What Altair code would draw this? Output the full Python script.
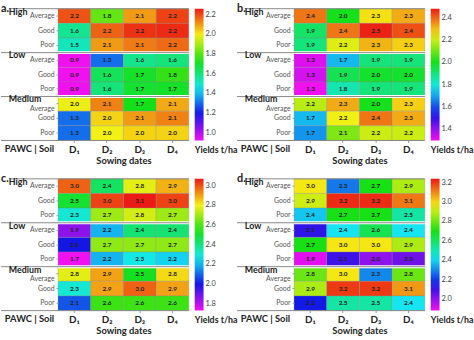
import altair as alt
import pandas as pd
import numpy as np

pawc = ["High", "Low", "Medium"]
soil = ["Average", "Good", "Poor"]
dates = ["D₁", "D₂", "D₃", "D₄"]
letters = ["a.", "b.", "c.", "d."]

# rows: High(Avg, Good, Poor), Low(Avg, Good, Poor), Medium(Avg, Good, Poor); cols D1..D4
yield_a = [
    [2.19, 1.82, 2.10, 2.21],
    [1.57, 2.17, 2.23, 2.24],
    [1.52, 2.10, 2.14, 2.16],
    [0.92, 1.30, 1.58, 1.60],
    [0.92, 1.64, 1.70, 1.76],
    [0.92, 1.60, 1.69, 1.70],
    [1.98, 2.13, 1.72, 2.08],
    [1.30, 2.03, 2.10, 2.13],
    [1.30, 1.99, 2.03, 2.03],
]
yield_b = [
    [2.38, 2.00, 2.26, 2.32],
    [1.92, 2.38, 2.47, 2.42],
    [1.90, 2.22, 2.31, 2.28],
    [1.32, 1.72, 1.90, 1.90],
    [1.33, 1.94, 1.98, 1.98],
    [1.30, 1.84, 1.90, 1.90],
    [2.18, 2.32, 2.00, 2.28],
    [1.72, 2.24, 2.38, 2.32],
    [1.68, 2.12, 2.20, 2.20],
]
yield_c = [
    [2.98, 2.44, 2.78, 2.88],
    [2.50, 3.02, 3.07, 3.02],
    [2.30, 2.70, 2.76, 2.70],
    [1.85, 2.20, 2.42, 2.42],
    [2.00, 2.68, 2.68, 2.68],
    [1.73, 2.20, 2.28, 2.24],
    [2.78, 2.90, 2.52, 2.83],
    [2.30, 2.90, 2.98, 2.90],
    [2.08, 2.58, 2.58, 2.58],
]
yield_d = [
    [2.98, 2.28, 2.70, 2.88],
    [2.92, 3.22, 3.22, 3.12],
    [2.38, 2.70, 2.70, 2.52],
    [2.12, 2.42, 2.62, 2.42],
    [2.70, 2.98, 2.98, 2.88],
    [1.90, 2.10, 2.00, 2.04],
    [2.80, 2.98, 2.30, 2.80],
    [2.88, 3.20, 3.20, 3.08],
    [2.16, 2.52, 2.52, 2.42],
]
scale_lo = [0.92, 1.30, 1.73, 1.88]
scale_hi = [2.26, 2.48, 3.07, 3.24]
legend_ticks = [
    [1.0, 1.2, 1.4, 1.6, 1.8, 2.0, 2.2],
    [1.4, 1.6, 1.8, 2.0, 2.2, 2.4],
    [1.8, 2.0, 2.2, 2.4, 2.6, 2.8, 3.0],
    [2.0, 2.2, 2.4, 2.6, 2.8, 3.0, 3.2],
]
all_yields = [yield_a, yield_b, yield_c, yield_d]

COLORS = ["#f010f0", "#1414e6", "#14e8f0", "#14e014", "#f5f014", "#ec1a14"]
FONT = "Lato"
W, H = 133, 134


def panel(idx):
    vals = all_yields[idx]
    rows = []
    for gi, g in enumerate(pawc):
        for si, s in enumerate(soil):
            for di, d in enumerate(dates):
                rows.append({"row": f"{g}|{s}", "date": d,
                             "yield": vals[gi * 3 + si][di]})
    df = pd.DataFrame(rows)
    order = [f"{g}|{s}" for g in pawc for s in soil]
    stops = list(np.linspace(scale_lo[idx], scale_hi[idx], 6))

    y = alt.Y("row:N", sort=order, scale=alt.Scale(paddingInner=0, paddingOuter=0),
              axis=alt.Axis(title=None, labelExpr="split(datum.value, '|')[1]",
                            domain=False, ticks=True, tickSize=2, tickColor="#999",
                            labelFontSize=7, labelColor="#555", labelPadding=2,
                            labelFont=FONT,
                            labelBaseline={"condition": {"test": "datum.value == 'Medium|Average'",
                                                         "value": "top"},
                                           "value": "middle"},
                            labelOffset={"condition": {"test": "datum.value == 'Medium|Average'",
                                                       "value": 1.5},
                                         "value": 0}))
    x = alt.X("date:N", sort=dates, scale=alt.Scale(paddingInner=0, paddingOuter=0),
              axis=alt.Axis(title="Sowing dates", labelAngle=0, domain=False,
                            ticks=True, tickSize=2, tickColor="#999",
                            labelFontSize=10, labelFontWeight="bold", labelFont=FONT,
                            labelColor="#222", labelPadding=2,
                            titleFontSize=9.5, titleFontWeight="bold", titleFont=FONT,
                            titleColor="#222", titlePadding=1))
    color = alt.Color("yield:Q",
                      scale=alt.Scale(domain=stops, range=COLORS, interpolate="rgb"),
                      legend=alt.Legend(title="Yields t/ha", orient="right", offset=6,
                                        gradientLength=H, gradientThickness=9,
                                        values=legend_ticks[idx], format=".1f",
                                        labelFontSize=7.5, labelColor="#444",
                                        labelFont=FONT, labelOverlap=False,
                                        titleOrient="bottom", titleFontSize=9,
                                        titleFontWeight="bold", titleFont=FONT,
                                        titleColor="#222", titlePadding=6,
                                        gradientStrokeWidth=0))
    base = alt.Chart(df)
    rect = base.mark_rect(stroke="#888", strokeWidth=0.3).encode(x=x, y=y, color=color)
    text = base.mark_text(fontSize=6.5, fontWeight="bold", font=FONT, color="#222").encode(
        x=alt.X("date:N", sort=dates), y=alt.Y("row:N", sort=order),
        text=alt.Text("yield:Q", format=".1f"))

    gdf = pd.DataFrame({"row": [f"{g}|Average" for g in pawc], "label": pawc})
    white = alt.Chart(gdf[1:]).mark_rule(color="white", strokeWidth=3).encode(
        y=alt.Y("row:N", sort=order, bandPosition=0), x=alt.value(0), x2=alt.value(W))
    sep = alt.Chart(gdf[1:]).mark_rule(color="#888", strokeWidth=1).encode(
        y=alt.Y("row:N", sort=order, bandPosition=0), x=alt.value(-58), x2=alt.value(W))
    top = alt.Chart(gdf[:1]).mark_rule(color="#888", strokeWidth=1).encode(
        y=alt.Y("row:N", sort=order, bandPosition=0), x=alt.value(-50), x2=alt.value(W))
    bottom = alt.Chart(pd.DataFrame({"row": ["Medium|Poor"]})).mark_rule(
        color="#888", strokeWidth=1).encode(
        y=alt.Y("row:N", sort=order, bandPosition=1), x=alt.value(-58), x2=alt.value(W))
    glab = alt.Chart(gdf).mark_text(align="left", baseline="middle", dy=-4.5,
                                    fontSize=9, fontWeight="bold", font=FONT,
                                    color="#222").encode(
        y=alt.Y("row:N", sort=order), x=alt.value(-50), text="label:N")
    extra = pd.DataFrame({"t": [letters[idx]]})
    letter = alt.Chart(extra).mark_text(align="left", baseline="middle", fontSize=11,
                                        fontWeight="bold", font=FONT, color="#222").encode(
        x=alt.value(-58), y=alt.value(0), text="t:N")
    pw = alt.Chart(pd.DataFrame({"t": ["PAWC | Soil"]})).mark_text(
        align="right", baseline="middle", fontSize=9.5, fontWeight="bold", font=FONT,
        color="#222").encode(x=alt.value(-4), y=alt.value(H + 9), text="t:N")
    return alt.layer(rect, text, white, sep, top, bottom, glab, letter, pw).properties(
        width=W, height=H)


chart = alt.concat(panel(0), panel(1), panel(2), panel(3), columns=2, bounds="flush",
                   spacing=alt.RowColnumber(row=39, column=107)).resolve_scale(
    color="independent", x="independent", y="independent").properties(
    padding={"left": 0, "top": 0, "right": 0, "bottom": 0}, background="white"
).configure_view(stroke=None)

chart.save("out.html", embed_options={"renderer": "svg", "actions": False})
